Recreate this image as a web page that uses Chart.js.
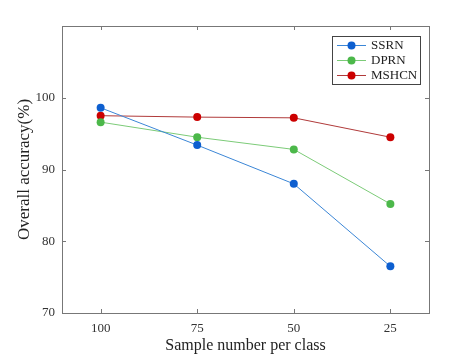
<!DOCTYPE html>
<html><head><meta charset="utf-8">
<script src="https://cdn.jsdelivr.net/npm/chart.js@4/dist/chart.umd.min.js"></script>
<style>html,body{margin:0;padding:0;background:#fff}#wrap{width:474px;height:355px}</style>
</head><body><div id="wrap"><canvas id="c" width="474" height="355"></canvas></div>
<script>
const categories = ['100','75','50','25'];
const ssrn = [98.6, 93.4, 88.0, 76.5];
const dprn = [96.6, 94.5, 92.8, 85.2];
const mshcn = [97.5, 97.3, 97.2, 94.5];
const yTicks = [70, 80, 90, 100];
const FONT = "'Liberation Serif', 'DejaVu Serif', serif";

function pts(arr){ return arr.map((v,i)=>({x:i,y:v})); }

const boxPlugin = {
  id:'box',
  afterDraw(chart){
    const {ctx, chartArea:a, scales:{x,y}} = chart;
    ctx.save();
    ctx.strokeStyle = '#777'; ctx.lineWidth = 1;
    ctx.strokeRect(a.left+0.5, a.top+0.5, a.right-a.left, a.bottom-a.top);
    ctx.beginPath();
    categories.forEach((c,i)=>{
      const px = Math.round(x.getPixelForValue(i))+0.5;
      ctx.moveTo(px, a.bottom); ctx.lineTo(px, a.bottom-4);
      ctx.moveTo(px, a.top); ctx.lineTo(px, a.top+4);
    });
    yTicks.forEach(v=>{
      const py = Math.round(y.getPixelForValue(v))+0.5;
      ctx.moveTo(a.left, py); ctx.lineTo(a.left+4, py);
      ctx.moveTo(a.right, py); ctx.lineTo(a.right-4, py);
    });
    ctx.stroke();
    // legend
    const lx = 332, ly = 36, lw = 88, lh = 48;
    ctx.fillStyle = '#fff';
    ctx.fillRect(lx, ly, lw, lh);
    ctx.strokeStyle = '#444';
    ctx.strokeRect(lx+0.5, ly+0.5, lw, lh);
    chart.data.datasets.forEach((ds,i)=>{
      const cy = ly + 9 + i*15;
      ctx.strokeStyle = ds.borderColor; ctx.lineWidth = 1;
      ctx.beginPath(); ctx.moveTo(lx+5, cy+0.5); ctx.lineTo(lx+34, cy+0.5); ctx.stroke();
      ctx.fillStyle = ds.pointBackgroundColor;
      ctx.beginPath(); ctx.arc(lx+19.5, cy+0.5, 4, 0, Math.PI*2); ctx.fill();
      ctx.fillStyle = '#222'; ctx.font = "13px " + FONT;
      ctx.textBaseline = 'middle'; ctx.textAlign = 'left';
      ctx.fillText(ds.label, lx+39, cy+1);
    });
    ctx.restore();
  }
};

new Chart(document.getElementById('c'), {
  type:'line',
  data:{datasets:[
    {label:'SSRN', data:pts(ssrn), borderColor:'#3b86d6', pointBackgroundColor:'#0d5fd0', pointBorderColor:'#0d5fd0'},
    {label:'DPRN', data:pts(dprn), borderColor:'#7ccb78', pointBackgroundColor:'#4cb84a', pointBorderColor:'#4cb84a'},
    {label:'MSHCN', data:pts(mshcn), borderColor:'#b03a3a', pointBackgroundColor:'#cc0000', pointBorderColor:'#cc0000'}
  ].map(d=>Object.assign(d,{borderWidth:1, pointRadius:4, pointBorderWidth:0, tension:0, fill:false}))},
  options:{
    responsive:false, animation:false, devicePixelRatio:1,
    layout:{padding:{top:26, right:45, left:14, bottom:0}},
    plugins:{legend:{display:false}, tooltip:{enabled:false}},
    scales:{
      x:{type:'linear', min:-0.4, max:3.4,
        afterBuildTicks(s){ s.ticks = categories.map((c,i)=>({value:i})); },
        afterFit(s){ s.height = 42; },
        grid:{display:false, drawTicks:false, tickLength:0}, border:{display:false},
        ticks:{padding:8, color:'#333', font:{family:FONT, size:13}, callback:(v)=>categories[v]},
        title:{display:true, text:'Sample number per class', color:'#222', font:{family:FONT, size:16}, padding:{top:0,bottom:0}}
      },
      y:{min:70, max:110,
        afterBuildTicks(s){ s.ticks = yTicks.map(v=>({value:v})); },
        afterFit(s){ s.width = 48; },
        grid:{display:false, drawTicks:false, tickLength:0}, border:{display:false},
        ticks:{padding:7, color:'#333', font:{family:FONT, size:13}},
        title:{display:true, text:'Overall accuracy(%)', color:'#222', font:{family:FONT, size:17}, padding:{top:0,bottom:0}}
      }
    }
  },
  plugins:[boxPlugin]
});
</script></body></html>
